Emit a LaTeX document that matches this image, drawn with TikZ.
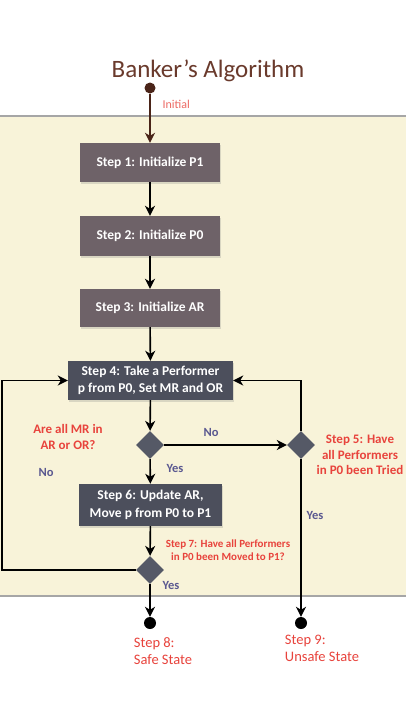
\documentclass[tikz,border=0pt]{standalone}
\usepackage{fontspec}
\setmainfont{Carlito}
\usetikzlibrary{arrows.meta,shapes.geometric,shadows}
\definecolor{titlec}{HTML}{6A3A2C}
\definecolor{dotc}{HTML}{4A2418}
\definecolor{panelc}{HTML}{F8F3D9}
\definecolor{boxa}{HTML}{6E6268}
\definecolor{boxb}{HTML}{4C4F5C}
\definecolor{redc}{HTML}{E8433C}
\definecolor{bluec}{HTML}{5A5890}
\definecolor{diac}{HTML}{555966}
\begin{document}
\begin{tikzpicture}[x=1pt,y=-1pt,
  stepbox/.style={rectangle,fill=#1,text=white,font=\bfseries\fontsize{13.5}{17.5}\selectfont,align=center,inner sep=0pt,drop shadow={opacity=0.25,shadow xshift=1pt,shadow yshift=-1.5pt}},
  dec/.style={diamond,fill=diac,minimum width=28pt,minimum height=28pt,inner sep=0pt},
  enddot/.style={circle,fill=black,minimum size=12pt,inner sep=0pt},
  conn/.style={draw=black,line width=1.6pt,-{Stealth[length=10pt,width=10pt,inset=3pt]}},
  redlab/.style={text=redc,font=\bfseries\fontsize{13}{15.5}\selectfont,align=center},
  ynlab/.style={text=bluec,font=\bfseries\fontsize{12.5}{14}\selectfont}]
\useasboundingbox (0,0) rectangle (405,720);
\fill[white] (0,0) rectangle (405,720);
\fill[panelc] (-5,116) rectangle (410,596);
\draw[gray!70,line width=1.2pt] (-5,116) -- (410,116);
\draw[gray!70,line width=1.2pt] (-5,596) -- (410,596);
\node[text=titlec,font=\fontsize{25}{28}\selectfont] (title) at (208,71) {Banker's Algorithm};
\node[circle,fill=dotc,minimum size=11pt,inner sep=0pt] (start) at (150,88) {};
\node[text=redc!80,font=\fontsize{12}{13}\selectfont,anchor=west] (initl) at (159,104) {Initial};
\node[stepbox=boxa,minimum width=140pt,minimum height=39pt] (s1) at (150,162.5) {Step 1: Initialize P1};
\node[stepbox=boxa,minimum width=140pt,minimum height=40pt] (s2) at (150,236) {Step 2: Initialize P0};
\node[stepbox=boxa,minimum width=140pt,minimum height=38pt] (s3) at (150,308) {Step 3: Initialize AR};
\node[stepbox=boxb,minimum width=165pt,minimum height=39pt] (s4) at (150.5,380.5) {Step 4: Take a Performer\\p from P0, Set MR and OR};
\node[dec] (d1) at (150,445) {};
\node[dec] (d2) at (301,445) {};
\node[stepbox=boxb,minimum width=143pt,minimum height=42pt] (s6) at (150.5,505) {Step 6: Update AR,\\Move p from P0 to P1};
\node[dec] (d3) at (150,570) {};
\node[enddot] (e1) at (150,623) {};
\node[enddot] (e2) at (301,623) {};
\coordinate (l1) at (2,570);
\coordinate (l2) at (2,380.5);
\coordinate (r1) at (301,380.5);
\draw[conn,draw=dotc] (start) -- (s1);
\draw[conn] (s1) -- (s2);
\draw[conn] (s2) -- (s3);
\draw[conn] (s3) -- (s4);
\draw[conn] (s4) -- (d1);
\draw[conn] (d1) -- (d2);
\draw[conn] (d1) -- (s6);
\draw[conn] (s6) -- (d3);
\draw[conn] (d3) -- (e1);
\draw[conn] (d2) -- (e2);
\draw[conn] (d3) -- (l1) -- (l2) -- (s4.west);
\draw[conn] (d2) -- (r1) -- (s4.east);
\node[redlab] (q1) at (68,437) {Are all MR in\\AR or OR?};
\node[redlab] (q5) at (360,455) {Step 5: Have\\all Performers\\in P0 been Tried};
\node[redlab,font=\bfseries\fontsize{11}{13}\selectfont] (q7) at (228,550) {Step 7: Have all Performers\\in P0 been Moved to P1?};
\node[redlab,align=left,font=\fontsize{14.5}{17}\selectfont] (q8) at (163,651) {Step 8:\\Safe State};
\node[redlab,align=left,font=\fontsize{14.5}{17}\selectfont] (q9) at (322,648) {Step 9:\\Unsafe State};
\node[ynlab] (no1) at (211,432) {No};
\node[ynlab] (yes1) at (175,468) {Yes};
\node[ynlab] (no2) at (46,472) {No};
\node[ynlab] (yes2) at (315,515) {Yes};
\node[ynlab] (yes3) at (171,585) {Yes};
\end{tikzpicture}
\end{document}
